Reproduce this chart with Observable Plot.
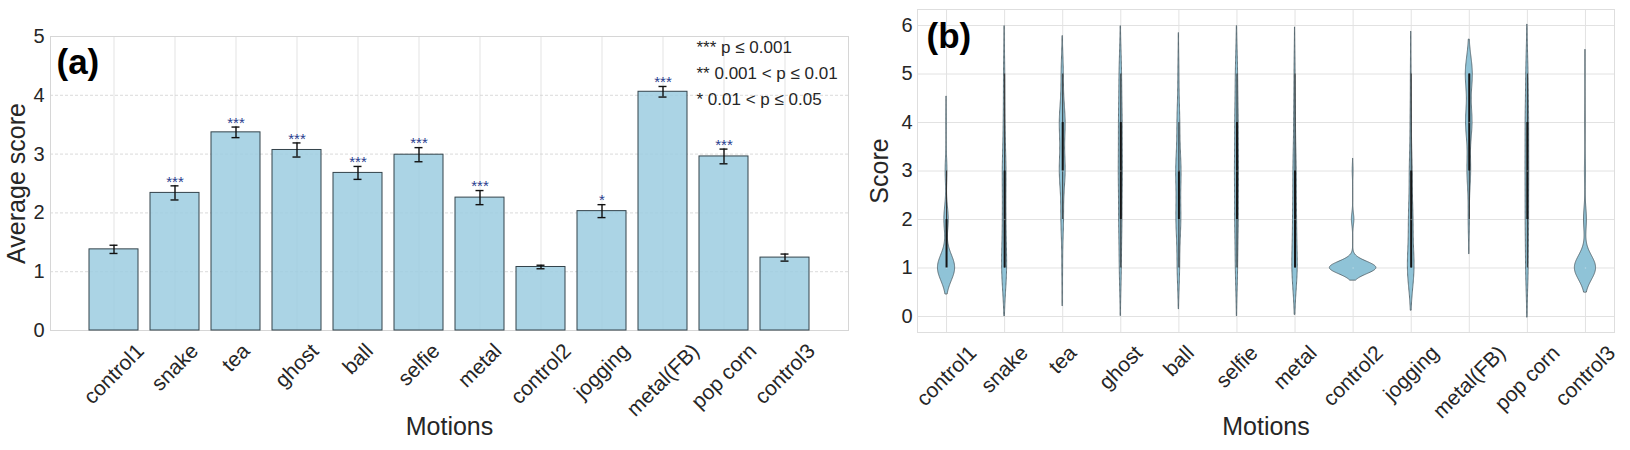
<!DOCTYPE html>
<html><head><meta charset="utf-8">
<script src="https://cdn.jsdelivr.net/npm/d3@7"></script>
<script src="https://cdn.jsdelivr.net/npm/@observablehq/plot@0.6"></script>
<style>
body{margin:0;background:#fff;}
#wrap{display:flex;width:1630px;height:450px;background:#fff;}
#wrap svg{flex:none;}
</style></head><body><div id="wrap"></div>
<script>
// ---------- data ----------
const motions = ["control1","snake","tea","ghost","ball","selfie","metal","control2","jogging","metal(FB)","pop corn","control3"];
const avgScore = [1.38, 2.34, 3.37, 3.07, 2.68, 2.99, 2.26, 1.08, 2.03, 4.06, 2.96, 1.24];
const errScore = [0.07, 0.12, 0.09, 0.12, 0.11, 0.12, 0.12, 0.03, 0.11, 0.09, 0.125, 0.06];
const signif   = ["", "***", "***", "***", "***", "***", "***", "", "*", "***", "***", ""];
const legendLines = ["*** p \u2264 0.001", "** 0.001 < p \u2264 0.01", "* 0.01 < p \u2264 0.05"];
const yTicksA = [0, 1, 2, 3, 4, 5];
const yTicksB = [0, 1, 2, 3, 4, 5, 6];
// score distributions (counts of answers at scores 1..5) estimated from the violins
const scoreLevels = [1, 2, 3, 4, 5];
const scoreCounts = [
  [87, 22, 9, 2, 0],
  [43, 25, 30, 12, 10],
  [5, 18, 41, 41, 15],
  [16, 25, 31, 28, 20],
  [18, 36, 39, 20, 7],
  [18, 27, 31, 26, 18],
  [45, 29, 25, 13, 8],
  [112, 6, 2, 0, 0],
  [52, 33, 21, 9, 5],
  [0, 8, 24, 42, 46],
  [21, 26, 28, 27, 18],
  [100, 13, 5, 1, 1]
];
const boxQ1   = [1, 1, 3, 2, 2, 2, 1, 1, 1, 3, 2, 1];
const boxQ3   = [2, 3, 4, 4, 3, 4, 3, 1, 3, 5, 4, 1];
const whiskLo = [1, 1, 2, 1, 1, 1, 1, 1, 1, 2, 1, 1];
const whiskHi = [3, 5, 5, 5, 4, 5, 5, 1, 5, 5, 5, 1];
const medians = [1, 2, 3, 3, 3, 3, 2, 1, 2, 4, 3, 1];

// ---------- helpers ----------
const FONT = "'Liberation Sans', Arial, Helvetica, sans-serif";
const ctx = document.createElement("canvas").getContext("2d");
function textW(s, fs) { ctx.font = `${fs}px 'Liberation Sans', Arial, sans-serif`; return ctx.measureText(s).width; }
const tickFs = 21;
function labelMarks(xAccessor, pad) {
  return motions.map((m, i) => {
    const h = (textW(m, tickFs) + tickFs * 0.95) * Math.SQRT1_2;
    return Plot.text([{m, i}], {x: xAccessor, frameAnchor: "bottom", text: "m", dy: pad + h / 2,
      rotate: -45, textAnchor: "middle", lineAnchor: "middle", fontSize: tickFs, fill: "#262626"});
  });
}

// ---------- panel (a) ----------
const barData = motions.map((m, i) => ({m, v: avgScore[i], e: errScore[i], s: signif[i]}));
const left = Plot.plot({
  width: 850, height: 450, marginLeft: 50, marginRight: 2, marginTop: 36, marginBottom: 120,
  style: {fontFamily: FONT, background: "#fff", color: "#262626", overflow: "visible"},
  x: {type: "band", domain: motions, paddingInner: 0.2, paddingOuter: 0, insetLeft: 36.5, insetRight: 36, axis: null},
  y: {domain: [0, 5]},
  marks: [
    Plot.ruleX(motions, {x: d => d, stroke: "#e3e3e3", strokeWidth: 1}),
    Plot.ruleY([1, 2, 3, 4], {stroke: "#d2d2d2", strokeDasharray: "3,2", strokeWidth: 0.8}),
    Plot.frame({stroke: "#d6d6d6"}),
    Plot.barY(barData, {x: "m", y: "v", fill: "#9ccde0", fillOpacity: 0.85, stroke: "#33434b", strokeWidth: 1}),
    Plot.ruleX(barData, {x: "m", y1: d => d.v - d.e, y2: d => d.v + d.e, stroke: "#111", strokeWidth: 1.4}),
    Plot.tickY(barData, {x: "m", y: d => d.v - d.e, insetLeft: 20.5, insetRight: 20.5, stroke: "#111", strokeWidth: 1.4}),
    Plot.tickY(barData, {x: "m", y: d => d.v + d.e, insetLeft: 20.5, insetRight: 20.5, stroke: "#111", strokeWidth: 1.4}),
    Plot.text(barData, {x: "m", y: d => d.v + d.e, text: "s", dy: -4, lineAnchor: "middle", fill: "#2a3c8e", fontSize: 15}),
    Plot.axisY(yTicksA, {tickSize: 0, tickPadding: 6, fontSize: 20, label: null, fill: "#262626", tickFormat: d => String(d)}),
    ...labelMarks("m", 10),
    Plot.text(["Average score"], {frameAnchor: "left", dx: -34, rotate: -90, textAnchor: "middle", lineAnchor: "middle", fontSize: 25, fill: "#262626"}),
    Plot.text(["Motions"], {frameAnchor: "bottom", dy: 96, textAnchor: "middle", lineAnchor: "middle", fontSize: 25, fill: "#262626"}),
    Plot.text(["(a)"], {frameAnchor: "top-left", dx: 6, dy: 26, fontSize: 35, fontWeight: "bold", textAnchor: "start", lineAnchor: "middle", fill: "#000"}),
    ...legendLines.map((t, i) => Plot.text([t], {frameAnchor: "top-left", dx: 646, dy: 11 + 26 * i, textAnchor: "start", lineAnchor: "middle", fontSize: 17, fill: "#262626"}))
  ]
});

// ---------- panel (b) ----------
function violinProfile(counts) {
  const n = d3.sum(counts);
  const mean = d3.sum(counts, (c, k) => c * scoreLevels[k]) / n;
  const v = d3.sum(counts, (c, k) => c * (scoreLevels[k] - mean) ** 2) / (n - 1);
  const bw = Math.sqrt(v) * Math.pow(n, -0.2);
  const present = scoreLevels.filter((s, k) => counts[k] > 0);
  const lo = d3.min(present) - 2 * bw, hi = d3.max(present) + 2 * bw;
  const pts = [];
  const N = 240;
  for (let j = 0; j <= N; j++) {
    const y = lo + (hi - lo) * j / N;
    let d = 0;
    counts.forEach((c, k) => { d += c * Math.exp(-0.5 * ((y - scoreLevels[k]) / bw) ** 2); });
    pts.push({y, d: d / (n * bw * Math.sqrt(2 * Math.PI))});
  }
  return pts;
}
const profiles = scoreCounts.map(violinProfile);
const maxD = d3.max(profiles, p => d3.max(p, q => q.d));
const violinPts = profiles.flatMap((p, i) => p.map(q => ({i, y: q.y, x1: i - 0.4 * q.d / maxD, x2: i + 0.4 * q.d / maxD})));
const boxData = motions.map((m, i) => ({i, q1: boxQ1[i], q3: boxQ3[i], lo: whiskLo[i], hi: whiskHi[i], med: medians[i]}));

const right = Plot.plot({
  width: 780, height: 450, marginLeft: 67, marginRight: 16, marginTop: 9, marginBottom: 118,
  style: {fontFamily: FONT, background: "#fff", color: "#262626", overflow: "visible"},
  x: {domain: [-0.5, 11.5], axis: null},
  y: {domain: [-0.33, 6.33]},
  marks: [
    Plot.ruleX(d3.range(motions.length), {x: d => d, stroke: "#e2e2e2"}),
    Plot.ruleY(yTicksB, {stroke: "#e2e2e2"}),
    Plot.frame({stroke: "#dedede"}),
    Plot.areaX(violinPts, {y: "y", x1: "x1", x2: "x2", z: "i", fill: "#8fc3d7", stroke: "#56666e", strokeWidth: 0.9, curve: "linear"}),
    Plot.ruleX(boxData, {x: "i", y1: "lo", y2: "hi", stroke: "#333", strokeWidth: 1}),
    Plot.ruleX(boxData, {x: "i", y1: "q1", y2: "q3", stroke: "#151515", strokeWidth: 2}),
    Plot.dot(boxData, {x: "i", y: "med", r: 0.8, fill: "#fff", fillOpacity: 0.35}),
    Plot.axisY(yTicksB, {tickSize: 0, tickPadding: 5, fontSize: 20, label: null, fill: "#262626", tickFormat: d => String(d)}),
    ...labelMarks("i", 10),
    Plot.text(["Score"], {frameAnchor: "left", dx: -38, rotate: -90, textAnchor: "middle", lineAnchor: "middle", fontSize: 25, fill: "#262626"}),
    Plot.text(["Motions"], {frameAnchor: "bottom", dy: 94, textAnchor: "middle", lineAnchor: "middle", fontSize: 25, fill: "#262626"}),
    Plot.text(["(b)"], {frameAnchor: "top-left", dx: 9, dy: 27, fontSize: 35, fontWeight: "bold", textAnchor: "start", lineAnchor: "middle", fill: "#000"})
  ]
});

document.getElementById("wrap").append(left, right);
</script></body></html>
